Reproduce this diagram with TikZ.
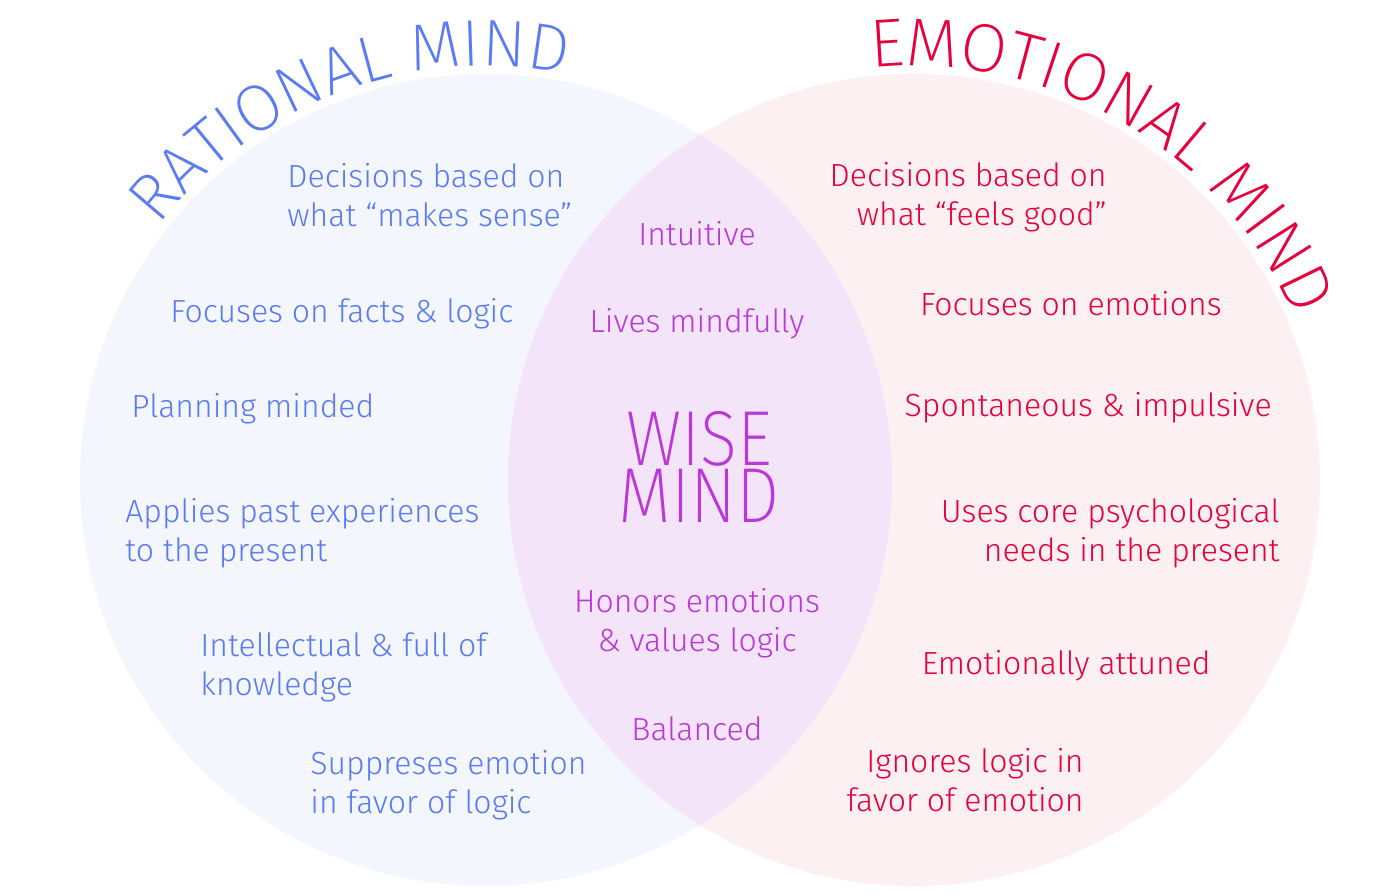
\documentclass[tikz,border=0pt]{standalone}
\usepackage{fontspec}
\IfFontExistsTF{Fira Sans Light}{\setmainfont{Fira Sans Light}}{%
  \IfFontExistsTF{Open Sans Light}{\setmainfont{Open Sans Light}}{\setmainfont{Fira Sans}}}
\IfFontExistsTF{Fira Sans ExtraLight}{%
  \newfontfamily\thinfont{Fira Sans ExtraLight}
  \newfontfamily\wisefont{Fira Sans ExtraLight}[FakeStretch=0.88]}{%
  \newfontfamily\thinfont{Fira Sans}
  \newfontfamily\wisefont{Fira Sans}[FakeStretch=0.88]}
\usetikzlibrary{decorations.text}

\definecolor{ratblue}{RGB}{91,123,245}
\definecolor{emored}{RGB}{230,0,60}
\definecolor{wisepurple}{RGB}{185,56,215}
\definecolor{ratfill}{RGB}{244,246,254}
\definecolor{emofill}{RGB}{253,240,243}
\definecolor{wisefill}{RGB}{244,228,249}

\begin{document}
\begin{tikzpicture}[
    x=0.5pt, y=0.5pt,
    rat/.style={text=ratblue, anchor=base west, align=left, inner sep=0pt,
        font=\fontsize{16}{19.5}\selectfont},
    emo/.style={text=emored, anchor=base east, align=right, inner sep=0pt,
        font=\fontsize{16}{19.5}\selectfont},
    wise/.style={text=wisepurple, anchor=base, align=center, inner sep=0pt,
        font=\fontsize{16}{19.5}\selectfont},
    title/.style={decorate, decoration={text along path, text align=center,
        text color=#1}}
]
    \useasboundingbox (0,0) rectangle (1400,895);
    \fill[white] (0,0) rectangle (1400,895);

    % circles
    \coordinate (RC) at (486,415);   % rational centre
    \coordinate (EC) at (914,415);   % emotional centre
    \fill[ratfill] (RC) circle (406);
    \fill[emofill] (EC) circle (406);
    \begin{scope}
        \clip (RC) circle (406);
        \fill[wisefill] (EC) circle (406);
    \end{scope}

    % curved titles
    \path[title=ratblue, decoration={text={|\thinfont\fontsize{33}{33}\selectfont|RATIONAL MIND}}]
        (RC) ++(143:414) arc[start angle=143, end angle=78, radius=414];
    \path[title=emored, decoration={text={|\thinfont\fontsize{34}{34}\selectfont|EMOTIONAL MIND}}]
        (EC) ++(96:414) arc[start angle=96, end angle=23, radius=414];

    % rational mind (base = last line)
    \node[rat] (r1) at (287,668) {Decisions based on\\what “makes sense”};
    \node[rat] (r2) at (170,572) {Focuses on facts \& logic};
    \node[rat] (r3) at (131,478) {Planning minded};
    \node[rat] (r4) at (125,334) {Applies past experiences\\to the present};
    \node[rat] (r5) at (200,200) {Intellectual \& full of\\knowledge};
    \node[rat] (r6) at (310,82) {Suppreses emotion\\in favor of logic};

    % wise mind
    \node[wise] (w1) at (697,649) {Intuitive};
    \node[wise] (w2) at (697,562) {Lives mindfully};
    \node[wise, font=\wisefont\fontsize{39}{28.5}\selectfont] (w3) at (699,373) {WISE\\MIND};
    \node[wise] (w4) at (697,244) {Honors emotions\\\& values logic};
    \node[wise] (w5) at (697,155) {Balanced};

    % emotional mind
    \node[emo] (e1) at (1107,669) {Decisions based on\\what “feels good”};
    \node[emo] (e2) at (1222,579) {Focuses on emotions};
    \node[emo] (e3) at (1272,479) {Spontaneous \& impulsive};
    \node[emo] (e4) at (1280,334) {Uses core psychological\\needs in the present};
    \node[emo] (e5) at (1211,221) {Emotionally attuned};
    \node[emo] (e6) at (1084,84) {Ignores logic in\\favor of emotion};
\end{tikzpicture}
\end{document}
